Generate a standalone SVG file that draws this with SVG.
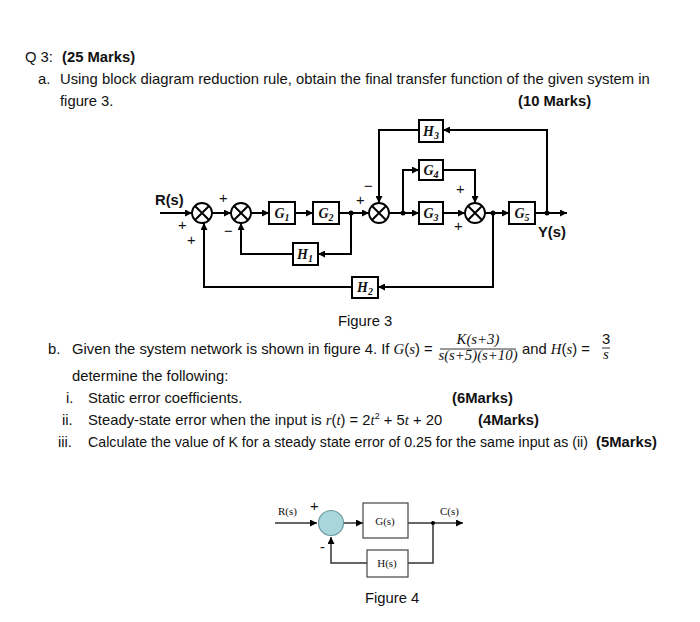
<svg xmlns="http://www.w3.org/2000/svg" width="700" height="622" viewBox="0 0 700 622">
<defs>
<marker id="a" viewBox="0 0 10 10" refX="10" refY="5" markerWidth="7" markerHeight="7" orient="auto" markerUnits="userSpaceOnUse"><path d="M0,0L10,5L0,10z" fill="#000"/></marker>
<style>
text{font-family:"Liberation Sans",Arial,sans-serif;font-size:14.8px;fill:#111}
.b{font-weight:bold}
.m{font-family:"Liberation Serif",serif;font-style:italic;font-weight:bold;font-size:14px}
.w{font-family:"Liberation Serif",serif;font-size:11px}
.i{font-family:"Liberation Serif",serif;font-style:italic}
.blk{fill:#fff;stroke:#000;stroke-width:2}
.sum{fill:#fff;stroke:#000;stroke-width:1.8}
.ln{fill:none;stroke:#000;stroke-width:2}
.ln4{fill:none;stroke:#333;stroke-width:1.5}
</style>
</defs>
<rect width="700" height="622" fill="#fff"/>
<text x="25" y="62">Q 3:<tspan x="62" class="b">(25 Marks)</tspan></text>
<text x="38" y="84">a.<tspan x="60">Using block diagram reduction rule, obtain the final transfer function of the given system in</tspan></text>
<text x="60" y="106">figure 3.</text>
<text x="518" y="106" class="b">(10 Marks)</text>

<g id="connectors">
<path class="ln" d="M160,213H192" marker-end="url(#a)"/>
<path class="ln" d="M212,213H231" marker-end="url(#a)"/>
<path class="ln" d="M251,213H269" marker-end="url(#a)"/>
<path class="ln" d="M295,213H313" marker-end="url(#a)"/>
<path class="ln" d="M339,213H369" marker-end="url(#a)"/>
<path class="ln" d="M389,213H419" marker-end="url(#a)"/>
<path class="ln" d="M443,213H465" marker-end="url(#a)"/>
<path class="ln" d="M485,213H509" marker-end="url(#a)"/>
<path class="ln" d="M535,213H567" marker-end="url(#a)"/>
<path class="ln" d="M403,213V170H419" marker-end="url(#a)"/>
<path class="ln" d="M443,170H475V203" marker-end="url(#a)"/>
<path class="ln" d="M547,213V130H443" marker-end="url(#a)"/>
<path class="ln" d="M419,130H379V203" marker-end="url(#a)"/>
<path class="ln" d="M351,213V254H318" marker-end="url(#a)"/>
<path class="ln" d="M293,254H241V223" marker-end="url(#a)"/>
<path class="ln" d="M493,213V287H378" marker-end="url(#a)"/>
<path class="ln" d="M352,287H204V223" marker-end="url(#a)"/>
<circle cx="351" cy="213" r="2.5"/><circle cx="403" cy="213" r="2.5"/><circle cx="493" cy="213" r="2.5"/><circle cx="547" cy="213" r="2.5"/>
<path class="ln4" d="M275,523H317" marker-end="url(#a)"/>
<path class="ln4" d="M343,523H363" marker-end="url(#a)"/>
<path class="ln4" d="M408,523H463" marker-end="url(#a)"/>
<path class="ln4" d="M433,523V563H408"/>
<path class="ln4" d="M367,563H331V537" marker-end="url(#a)"/>
<circle cx="433" cy="523" r="2"/>
</g>

<g id="s1"><circle class="sum" cx="202" cy="213" r="10"/><path class="ln" stroke-width="1.5" d="M195,206L209,220M209,206L195,220"/></g>
<g id="s2"><circle class="sum" cx="241" cy="213" r="10"/><path class="ln" stroke-width="1.5" d="M234,206L248,220M248,206L234,220"/></g>
<g id="s3"><circle class="sum" cx="379" cy="213" r="10"/><path class="ln" stroke-width="1.5" d="M372,206L386,220M386,206L372,220"/></g>
<g id="s4"><circle class="sum" cx="475" cy="213" r="10"/><path class="ln" stroke-width="1.5" d="M468,206L482,220M482,206L468,220"/></g>
<g id="G1"><rect class="blk" x="269" y="202" width="26" height="22"/><text class="m" x="282" y="218" text-anchor="middle">G<tspan font-size="10" dy="3">1</tspan></text></g>
<g id="G2"><rect class="blk" x="313" y="202" width="26" height="22"/><text class="m" x="326" y="218" text-anchor="middle">G<tspan font-size="10" dy="3">2</tspan></text></g>
<g id="G3"><rect class="blk" x="419" y="202" width="24" height="22"/><text class="m" x="431" y="218" text-anchor="middle">G<tspan font-size="10" dy="3">3</tspan></text></g>
<g id="G4"><rect class="blk" x="419" y="160" width="24" height="20"/><text class="m" x="431" y="175" text-anchor="middle">G<tspan font-size="10" dy="3">4</tspan></text></g>
<g id="G5"><rect class="blk" x="509" y="202" width="26" height="22"/><text class="m" x="522" y="218" text-anchor="middle">G<tspan font-size="10" dy="3">5</tspan></text></g>
<g id="H3"><rect class="blk" x="419" y="120" width="24" height="22"/><text class="m" x="431" y="136" text-anchor="middle">H<tspan font-size="10" dy="3">3</tspan></text></g>
<g id="H1"><rect class="blk" x="293" y="243" width="25" height="22"/><text class="m" x="305" y="259" text-anchor="middle">H<tspan font-size="10" dy="3">1</tspan></text></g>
<g id="H2"><rect class="blk" x="352" y="277" width="26" height="21"/><text class="m" x="365" y="292" text-anchor="middle">H<tspan font-size="10" dy="3">2</tspan></text></g>
<g id="labels3">
<text x="155" y="205" class="b">R(s)</text>
<text x="538" y="237" class="b">Y(s)</text>
<text x="219" y="203" font-size="13">+</text>
<text x="178" y="230" font-size="13">+</text>
<text x="187" y="245" font-size="13">+</text>
<text x="224" y="236" font-size="14">−</text>
<text x="364" y="191" font-size="14">−</text>
<text x="356" y="205" font-size="13">+</text>
<text x="456" y="194" font-size="13">+</text>
<text x="454" y="231" font-size="13">+</text>
</g>
<text x="338" y="326">Figure 3</text>

<text x="48" y="354">b.<tspan x="72">Given the system network is shown in figure 4. If </tspan><tspan class="i">G</tspan>(<tspan class="i">s</tspan>) =</text>
<text x="478" y="344" class="i" font-size="10" text-anchor="middle">K(s+3)</text>
<line x1="440" y1="349" x2="516" y2="349" stroke="#000" stroke-width="0.8"/>
<text x="478" y="360" class="i" font-size="10" text-anchor="middle">s(s+5)(s+10)</text>
<text x="522" y="354">and <tspan class="i">H</tspan>(<tspan class="i">s</tspan>) =</text>
<text x="606" y="344" font-size="10" text-anchor="middle">3</text>
<line x1="602" y1="348" x2="610" y2="348" stroke="#000" stroke-width="0.8"/>
<text x="606" y="359" class="i" font-size="10" text-anchor="middle">s</text>
<text x="72" y="381">determine the following:</text>
<text x="66" y="403">i.<tspan x="88">Static error coefficients.</tspan></text>
<text x="452" y="403" class="b">(6Marks)</text>
<text x="62" y="425">ii.<tspan x="88">Steady-state error when the input is </tspan><tspan class="i">r</tspan>(<tspan class="i">t</tspan>) = 2<tspan class="i">t</tspan><tspan font-size="9" dy="-6">2</tspan><tspan dy="6"> + 5</tspan><tspan class="i">t</tspan> + 20<tspan x="478" class="b">(4Marks)</tspan></text>
<text x="58" y="447">iii.</text>
<text x="88" y="447" font-size="14.2" textLength="500" lengthAdjust="spacingAndGlyphs">Calculate the value of K for a steady state error of 0.25 for the same input as (ii)</text>
<text x="596" y="447" class="b" font-size="14.2">(5Marks)</text>

<g id="sum4"><circle cx="331" cy="523" r="12.5" fill="#a9d6da" stroke="#6a9aa0" stroke-width="1.2"/></g>
<g id="Gs"><rect x="363" y="503" width="45" height="35" fill="#fff" stroke="#444" stroke-width="1.2"/><text class="w" x="385" y="525" text-anchor="middle">G(s)</text></g>
<g id="Hs"><rect x="367" y="550" width="41" height="27" fill="#fff" stroke="#444" stroke-width="1.2"/><text class="w" x="387" y="567" text-anchor="middle">H(s)</text></g>
<text class="w" x="278" y="515">R(s)</text>
<text x="310" y="511" font-size="10">+</text>
<text x="320" y="552" font-size="10">-</text>
<text class="w" x="440" y="515">C(s)</text>
<text x="365" y="603">Figure 4</text>
</svg>
